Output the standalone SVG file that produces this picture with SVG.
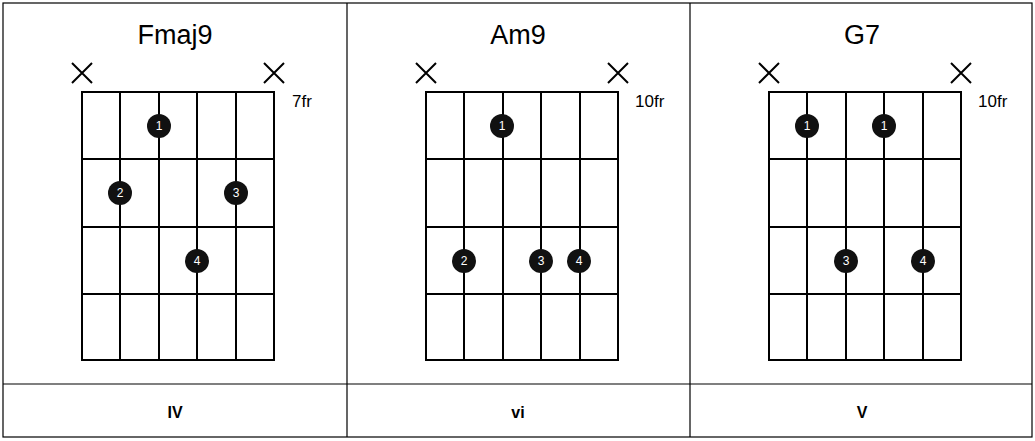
<svg xmlns="http://www.w3.org/2000/svg" width="1035" height="441" viewBox="0 0 1035 441">
<style>
.b{fill:none;stroke:#000;stroke-width:1.2}
.g{fill:none;stroke:#000;stroke-width:2}
.t{font-family:"Liberation Sans",sans-serif;font-size:27px;text-anchor:middle}
.f{font-family:"Liberation Sans",sans-serif;font-size:17px}
.r{font-family:"Liberation Sans",sans-serif;font-size:16px;font-weight:bold;text-anchor:middle}
.d{fill:#111}
.n{font-family:"Liberation Sans",sans-serif;font-size:12px;fill:#fff;text-anchor:middle}
</style>
<defs>
<g id="grid">
<rect class="g" x="0" y="0" width="192" height="268"/>
<path class="g" d="M38 0V268M77 0V268M115 0V268M154 0V268M0 67H192M0 135H192M0 202H192"/>
<path class="g" d="M-10 -29L10 -9M10 -29L-10 -9M182 -29L202 -9M202 -29L182 -9"/>
</g>
</defs>
<rect width="1035" height="441" fill="#fff"/>
<g id="table">
<rect class="b" x="3" y="3" width="1029" height="434"/>
<path class="b" d="M347 3V437M690 3V437M3 384H1032"/>
</g>
<g id="fmaj9">
<text class="t" x="175" y="44">Fmaj9</text>
<use href="#grid" x="82" y="92"/>
<text class="f" x="292" y="107">7fr</text>
<circle class="d" cx="159" cy="126" r="12"/><text class="n" x="159" y="130">1</text>
<circle class="d" cx="120" cy="193" r="12"/><text class="n" x="120" y="197">2</text>
<circle class="d" cx="236" cy="193" r="12"/><text class="n" x="236" y="197">3</text>
<circle class="d" cx="197" cy="261" r="12"/><text class="n" x="197" y="265">4</text>
<text class="r" x="175" y="418">IV</text>
</g>
<g id="am9">
<text class="t" x="518" y="44">Am9</text>
<use href="#grid" x="426" y="92"/>
<text class="f" x="635" y="107">10fr</text>
<circle class="d" cx="502" cy="126" r="12"/><text class="n" x="502" y="130">1</text>
<circle class="d" cx="464" cy="261" r="12"/><text class="n" x="464" y="265">2</text>
<circle class="d" cx="541" cy="261" r="12"/><text class="n" x="541" y="265">3</text>
<circle class="d" cx="579" cy="261" r="12"/><text class="n" x="579" y="265">4</text>
<text class="r" x="518" y="418">vi</text>
</g>
<g id="g7">
<text class="t" x="862" y="44">G7</text>
<use href="#grid" x="769" y="92"/>
<text class="f" x="978" y="107">10fr</text>
<circle class="d" cx="807" cy="126" r="12"/><text class="n" x="807" y="130">1</text>
<circle class="d" cx="884" cy="126" r="12"/><text class="n" x="884" y="130">1</text>
<circle class="d" cx="846" cy="261" r="12"/><text class="n" x="846" y="265">3</text>
<circle class="d" cx="923" cy="261" r="12"/><text class="n" x="923" y="265">4</text>
<text class="r" x="862" y="418">V</text>
</g>
</svg>
